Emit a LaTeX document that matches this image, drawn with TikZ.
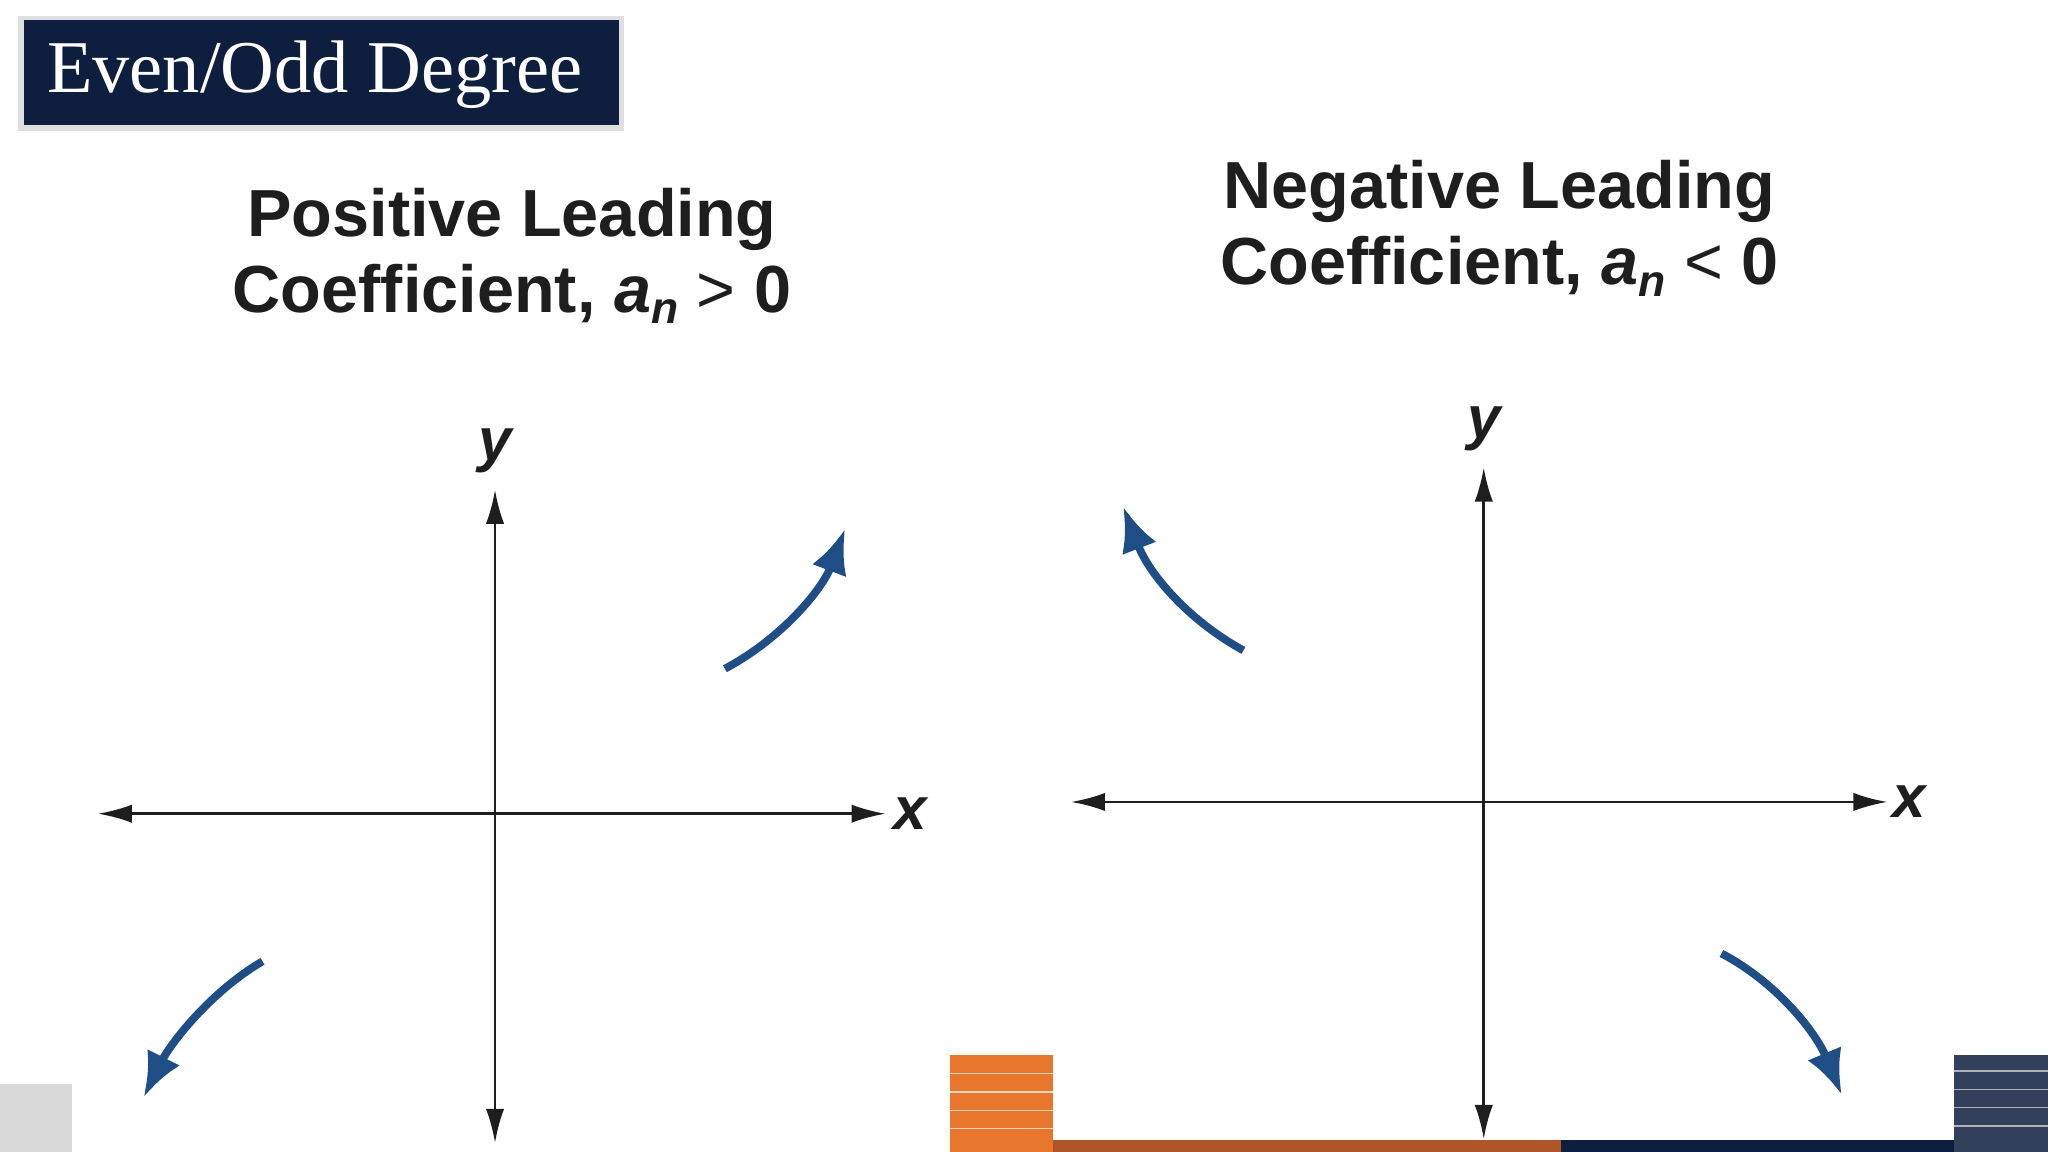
\documentclass[tikz,border=0pt]{standalone}
\usepackage{fontspec}
\setmainfont{Liberation Serif}
\newfontfamily\hd{Liberation Sans}
\usetikzlibrary{arrows.meta}
\definecolor{navy}{HTML}{0E1E3E}
\definecolor{curveblue}{HTML}{1F4E86}
\definecolor{orng}{HTML}{E8762C}
\definecolor{brn}{HTML}{B0552A}
\definecolor{ink}{HTML}{1E1E1E}
\begin{document}
\begin{tikzpicture}[x=1pt,y=-1pt,
  axis/.style={ink,line width=2pt,{Latex[length=26pt,width=14pt]}-{Latex[length=26pt,width=14pt]}},
  blue/.style={curveblue,line width=6pt,-{Latex[length=34pt,width=28pt]}},
  head/.style={text=ink,font=\hd\bfseries\fontsize{51}{58}\selectfont,align=center},
  lab/.style={text=ink,font=\hd\bfseries\itshape\fontsize{46}{50}\selectfont}]
\useasboundingbox (0,0) rectangle (1568,882);
\fill[white] (0,0) rectangle (1568,882);
% title
\fill[gray!25] (14,12) rectangle (478,100);
\fill[navy] (18,15) rectangle (474,96);
\node[text=white,font=\fontsize{57}{63}\selectfont] (title) at (241,57) {Even/Odd Degree};
% headings
\node[head] (h1) at (392,196) {Positive Leading\\Coefficient, \textit{a}\raisebox{-9pt}{\fontsize{34}{34}\selectfont\textit{n}} \textmd{>} 0};
\node[head] (h2) at (1148,175) {Negative Leading\\Coefficient, \textit{a}\raisebox{-9pt}{\fontsize{34}{34}\selectfont\textit{n}} \textmd{<} 0};
% left axes
\coordinate (l1) at (75,623); \coordinate (l2) at (678,623);
\coordinate (lb) at (379,875); \coordinate (lt) at (379,375);
\draw[axis] (l1) -- (l2);
\draw[axis] (lb) -- (lt);
\node[lab] (ly) at (379,345) {y};
\node[lab] (lx) at (697,623) {x};
% right axes
\coordinate (r1) at (820,614); \coordinate (r2) at (1445,614);
\coordinate (rb) at (1136,872); \coordinate (rt) at (1136,358);
\draw[axis] (r1) -- (r2);
\draw[axis] (rb) -- (rt);
\node[lab] (ry) at (1136,328) {y};
\node[lab] (rx) at (1462,614) {x};
% curves
\coordinate (a1) at (555,512); \coordinate (a2) at (647,405);
\draw[blue] (a1) .. controls (600,488) and (630,450) .. (a2);
\coordinate (b1) at (201,736); \coordinate (b2) at (110,840);
\draw[blue] (b1) .. controls (160,760) and (130,800) .. (b2);
\coordinate (c1) at (952,498); \coordinate (c2) at (860,388);
\draw[blue] (c1) .. controls (910,475) and (880,440) .. (c2);
\coordinate (d1) at (1318,730); \coordinate (d2) at (1410,838);
\draw[blue] (d1) .. controls (1360,752) and (1390,790) .. (d2);
% decorations
\fill[gray!30] (0,830) rectangle (55,882);
\fill[orng] (727,808) rectangle (806,882);
\foreach \yy in {822,836,850,864} \draw[white!70!orng,line width=1pt] (727,\yy) -- (806,\yy);
\fill[brn] (806,873) rectangle (1200,882);
\fill[navy] (1195,873) rectangle (1568,882);
\fill[navy!85] (1496,808) rectangle (1568,882);
\foreach \yy in {820,834,848,862} \draw[gray!60,line width=1pt] (1496,\yy) -- (1568,\yy);
\end{tikzpicture}
\end{document}
